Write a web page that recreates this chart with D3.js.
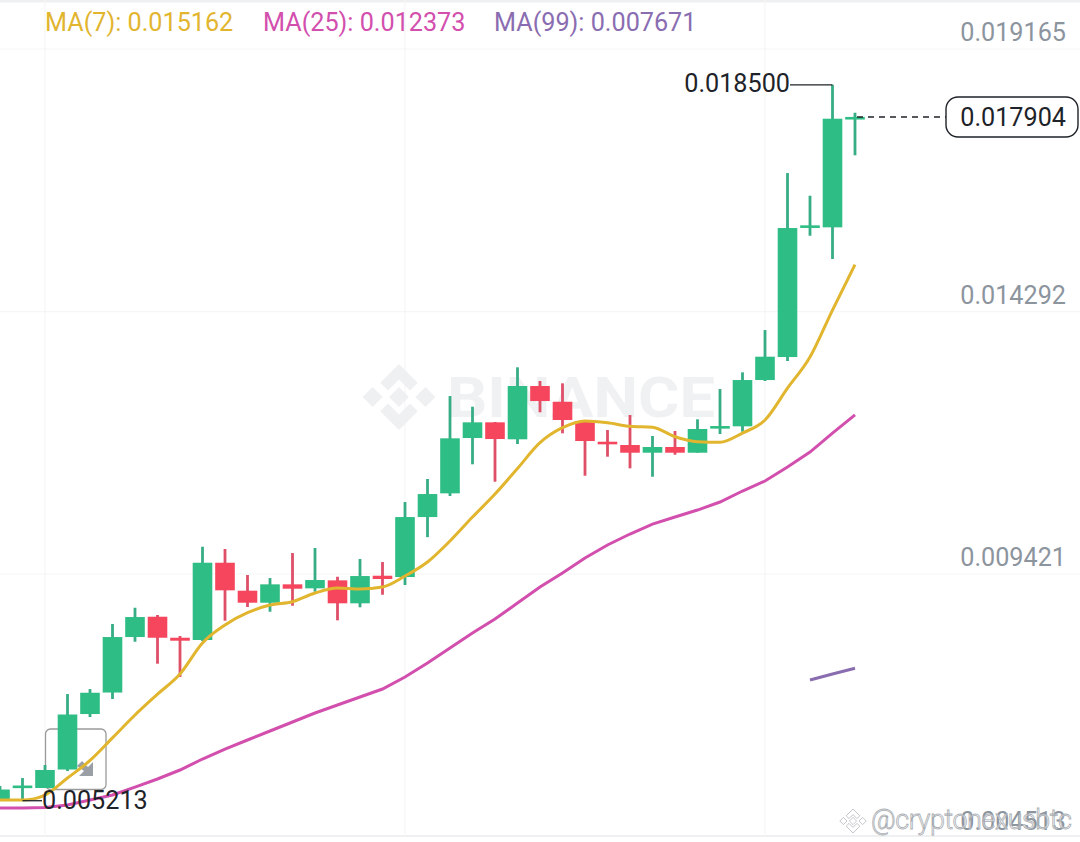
<!DOCTYPE html>
<html>
<head>
<meta charset="utf-8">
<script src="https://cdn.jsdelivr.net/npm/d3@7"></script>
<style>
    html, body { margin: 0; padding: 0; background: #fff; overflow: hidden; }
    svg { display: block; font-family: Roboto, sans-serif; }
</style>
</head>
<body>
<div id="chart"></div>
<script>
const opens = [0.005226, 0.005449, 0.005449, 0.005792, 0.006822, 0.007221, 0.008251, 0.008628, 0.008238, 0.008196, 0.009630, 0.009111, 0.008888, 0.009229, 0.009155, 0.009303, 0.008877, 0.009389, 0.009365, 0.010478, 0.010918, 0.011945, 0.012236, 0.011921, 0.012910, 0.012618, 0.012261, 0.011876, 0.011815, 0.011672, 0.011778, 0.011672, 0.012125, 0.012162, 0.013021, 0.013448, 0.015855, 0.015855, 0.017884];
const highs = [0.005486, 0.005634, 0.005876, 0.007193, 0.007286, 0.008493, 0.008795, 0.008660, 0.008270, 0.009927, 0.009885, 0.009402, 0.009346, 0.009810, 0.009903, 0.009370, 0.009699, 0.009643, 0.010757, 0.011184, 0.012724, 0.012526, 0.012242, 0.013257, 0.013003, 0.012960, 0.012261, 0.012093, 0.012372, 0.011982, 0.012075, 0.012292, 0.012854, 0.013164, 0.013949, 0.016863, 0.016442, 0.018500, 0.017982];
const lows = [0.005226, 0.005213, 0.005449, 0.005764, 0.006766, 0.007101, 0.008164, 0.007756, 0.007509, 0.008178, 0.008554, 0.008808, 0.008721, 0.008832, 0.009092, 0.008561, 0.008803, 0.009036, 0.009216, 0.010105, 0.010868, 0.011457, 0.011134, 0.011833, 0.012422, 0.012032, 0.011245, 0.011598, 0.011382, 0.011226, 0.011635, 0.011672, 0.012019, 0.012062, 0.013003, 0.013374, 0.015699, 0.015267, 0.017192];
const closes = [0.005421, 0.005495, 0.005783, 0.006813, 0.007217, 0.008251, 0.008622, 0.008238, 0.008183, 0.009630, 0.009118, 0.008888, 0.009229, 0.009148, 0.009309, 0.008877, 0.009383, 0.009328, 0.010478, 0.010905, 0.011939, 0.012236, 0.011926, 0.012910, 0.012631, 0.012279, 0.011889, 0.011828, 0.011672, 0.011778, 0.011672, 0.012112, 0.012167, 0.013021, 0.013454, 0.015842, 0.015892, 0.017871, 0.017904];
const ma7 = [0.005226, 0.005226, 0.005319, 0.005634, 0.005960, 0.006380, 0.006804, 0.007190, 0.007565, 0.008140, 0.008474, 0.008702, 0.008845, 0.008906, 0.009068, 0.009161, 0.009142, 0.009179, 0.009383, 0.009643, 0.010033, 0.010478, 0.010905, 0.011380, 0.011858, 0.012136, 0.012261, 0.012229, 0.012162, 0.012144, 0.011969, 0.011876, 0.011865, 0.012037, 0.012279, 0.012870, 0.013448, 0.014320, 0.015162];
const ma25 = [0.005078, 0.005078, 0.005087, 0.005133, 0.005226, 0.005319, 0.005467, 0.005616, 0.005783, 0.005987, 0.006172, 0.006340, 0.006507, 0.006674, 0.006841, 0.006989, 0.007138, 0.007286, 0.007509, 0.007769, 0.008047, 0.008326, 0.008585, 0.008882, 0.009179, 0.009439, 0.009717, 0.009959, 0.010163, 0.010348, 0.010478, 0.010608, 0.010757, 0.010961, 0.011147, 0.011407, 0.011684, 0.012037, 0.012373];
const ma99 = [0.007453, 0.007564, 0.007671];
const ma99Start = 36;

const priceTicks = [0.019165, 0.014292, 0.009421, 0.004513];
const timeGrid = [2, 18, 34];
const legendItems = [
    { label: "MA(7): 0.015162", color: "#e2b52f", x: 45 },
    { label: "MA(25): 0.012373", color: "#d24fae", x: 263 },
    { label: "MA(99): 0.007671", color: "#8a6db1", x: 494 }
];
const highLabel = { index: 37, price: 0.018500 };
const lowLabel = { index: 1, price: 0.005213 };
const lastPrice = 0.017904;

const width = 1080, height = 842;
const green = "#2ebd85", red = "#f6465d";
const fontSize = 25.2;
const fmt = d3.format(".6f");

const x = d3.scaleLinear().domain([0, 38]).range([0, 855]);
const y = d3.scaleLinear().domain([0.009421, 0.019165]).range([574, 49]);

const svg = d3.select("#chart").append("svg")
    .attr("width", width)
    .attr("height", height);

// top strip and grid
svg.append("rect").attr("width", width).attr("height", 2.5).attr("fill", "#eff0f1");
const grid = svg.append("g").attr("stroke", "#f5f6f7").attr("stroke-width", 1.2);
grid.selectAll(".h").data(priceTicks.slice(0, 3)).enter().append("line")
    .attr("x1", 0).attr("x2", width)
    .attr("y1", d => y(d)).attr("y2", d => y(d));
grid.append("line").attr("x1", 0).attr("x2", width).attr("y1", 836).attr("y2", 836)
    .attr("stroke", "#e9ebed").attr("stroke-width", 1.5);
grid.selectAll(".v").data(timeGrid).enter().append("line")
    .attr("y1", 0).attr("y2", 836)
    .attr("x1", d => x(d)).attr("x2", d => x(d));

// small diamond logo, used for both watermarks
const logo = "M0-30 L17-13 L10-6 L0-16 L-10-6 L-17-13Z M0 30 L17 13 L10 6 L0 16 L-10 6 L-17 13Z M-33 0 L-24-9 L-15 0 L-24 9Z M33 0 L24-9 L15 0 L24 9Z M0-9 L9 0 L0 9 L-9 0Z";
svg.append("path").attr("d", logo).attr("fill", "#eef0f1")
    .attr("transform", "translate(399,397) scale(1.1)");
svg.append("text").attr("x", 447).attr("y", 417)
    .attr("font-size", 55).attr("font-weight", 700).attr("fill", "#eff1f2")
    .attr("textLength", 268).attr("lengthAdjust", "spacingAndGlyphs")
    .text("BINANCE");

// price axis labels
const axis = d3.axisRight(y).tickValues(priceTicks).tickFormat(fmt).tickSize(0).tickPadding(0);
const axisG = svg.append("g").attr("transform", "translate(1066,0)").call(axis);
axisG.select(".domain").remove();
axisG.selectAll("text")
    .attr("x", 0)
    .attr("dy", "-8.5")
    .attr("text-anchor", "end")
    .attr("font-family", "Roboto, sans-serif")
    .attr("font-size", fontSize)
    .attr("fill", "#8c949e");

// legend
svg.append("g").selectAll("text").data(legendItems).enter().append("text")
    .attr("x", d => d.x).attr("y", 31)
    .attr("font-size", fontSize)
    .attr("fill", d => d.color)
    .text(d => d.label);

// zoom-out button behind the candles
svg.append("rect")
    .attr("x", 45.5).attr("y", 729).attr("width", 60.5).attr("height", 60.5).attr("rx", 5)
    .attr("fill", "none").attr("stroke", "#9a9a9a").attr("stroke-width", 1.3);
svg.append("path").attr("d", "M77 766 L82 761 L88 767 L93 762 L93 776 L79 776 L84 771Z").attr("fill", "#9a9ea5");

// candles
const candles = d3.range(opens.length).map(i => ({
    i, open: opens[i], high: highs[i], low: lows[i], close: closes[i]
}));
const colorOf = d => d.close >= d.open ? green : red;
const candle = svg.append("g").selectAll("g").data(candles).enter().append("g");
candle.append("line")
    .attr("x1", d => x(d.i)).attr("x2", d => x(d.i))
    .attr("y1", d => y(d.high)).attr("y2", d => y(d.low))
    .attr("stroke", d => d.close >= d.open ? "#37ad85" : "#de4f68")
    .attr("stroke-width", 2.8);
candle.append("rect")
    .attr("x", d => x(d.i) - 9.8)
    .attr("width", 19.6)
    .attr("y", d => y(Math.max(d.open, d.close)))
    .attr("height", d => Math.max(2.6, Math.abs(y(d.open) - y(d.close))))
    .attr("fill", colorOf);

// moving averages
const line = d3.line().x(d => x(d.i)).y(d => y(d.v));
const series = (values, start) => values.map((v, k) => ({ i: start + k, v }));
svg.append("path").datum(series(ma25, 0))
    .attr("d", line)
    .attr("fill", "none").attr("stroke", "#d24fae").attr("stroke-width", 3);
svg.append("path").datum(series(ma7, 0))
    .attr("d", line.curve(d3.curveMonotoneX))
    .attr("fill", "none").attr("stroke", "#e2b52f").attr("stroke-width", 3);
svg.append("path").datum(series(ma99, ma99Start))
    .attr("d", line.curve(d3.curveLinear))
    .attr("fill", "none").attr("stroke", "#8a6db1").attr("stroke-width", 3);

// high and low markers
const ink = "#1e2329";
svg.append("line")
    .attr("x1", 790).attr("x2", x(highLabel.index))
    .attr("y1", y(highLabel.price)).attr("y2", y(highLabel.price))
    .attr("stroke", ink).attr("stroke-width", 1.3);
svg.append("text").attr("x", 790).attr("y", y(highLabel.price) + 7)
    .attr("text-anchor", "end").attr("font-size", fontSize).attr("fill", ink)
    .text(fmt(highLabel.price));
svg.append("line")
    .attr("x1", x(lowLabel.index)).attr("x2", 42)
    .attr("y1", y(lowLabel.price)).attr("y2", y(lowLabel.price))
    .attr("stroke", ink).attr("stroke-width", 1.3);
svg.append("text").attr("x", 42).attr("y", y(lowLabel.price) + 8)
    .attr("font-size", fontSize).attr("fill", ink)
    .text(fmt(lowLabel.price));

// last price tag
svg.append("line")
    .attr("x1", x(38) + 2).attr("x2", 946)
    .attr("y1", y(lastPrice)).attr("y2", y(lastPrice))
    .attr("stroke", ink).attr("stroke-width", 1.4).attr("stroke-dasharray", "6 5");
svg.append("rect")
    .attr("x", 946).attr("y", y(lastPrice) - 20).attr("width", 132).attr("height", 40).attr("rx", 12)
    .attr("fill", "#fff").attr("stroke", ink).attr("stroke-width", 1.4);
svg.append("text").attr("x", 1066).attr("y", y(lastPrice) + 9)
    .attr("text-anchor", "end").attr("font-size", fontSize).attr("fill", ink)
    .text(fmt(lastPrice));

// author watermark, bottom right
svg.append("path").attr("d", logo)
    .attr("fill", "#fff").attr("stroke", "#b5b8bc").attr("stroke-width", 2)
    .attr("transform", "translate(853,821) scale(0.4)");
svg.append("text").attr("x", 871).attr("y", 829)
    .attr("font-size", 27).attr("font-weight", 300)
    .attr("fill", "#fff").attr("fill-opacity", 0.6)
    .attr("stroke", "#a9adb2").attr("stroke-width", 0.8)
    .attr("textLength", 201)
    .text("@cryptonexusbtc");
</script>
</body>
</html>
